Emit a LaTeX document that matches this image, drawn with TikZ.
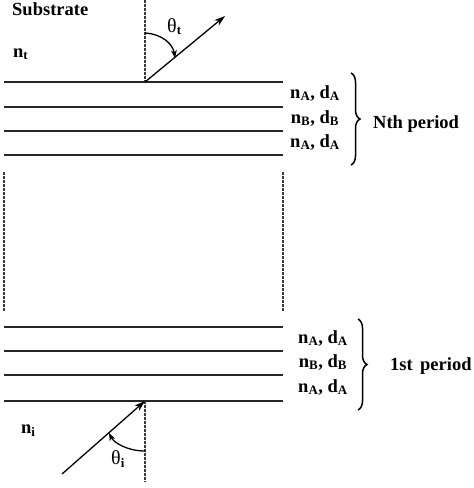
\documentclass[tikz,border=0pt]{standalone}
\usepackage{fontspec}
\setmainfont{Liberation Serif}
\usetikzlibrary{arrows.meta,decorations.pathreplacing}
\begin{document}
\begin{tikzpicture}[x=1pt,y=-1pt,
  layer/.style={line width=1.6pt, black!85},
  normal/.style={line width=1.1pt, gray!45!black, dash pattern=on 3pt off 1pt},
  ray/.style={line width=1.3pt, -{Stealth[length=11pt,width=7pt]}},
  anglearc/.style={line width=1.3pt, -{Stealth[length=8pt,width=6pt]}},
  lbl/.style={font=\fontsize{18.5}{20}\selectfont\bfseries, inner sep=0pt},
  brc/.style={decorate, decoration={brace, amplitude=9pt}, line width=1.5pt}]
\useasboundingbox (0,0) rectangle (474,488);
% layers, Nth period
\foreach \y [count=\i] in {82,107,131,155} {
  \draw[layer] (4,\y) coordinate (tl\i) -- (283,\y) coordinate (tr\i);
}
% layers, 1st period
\foreach \y [count=\i] in {327,351,375,401} {
  \draw[layer] (4,\y) coordinate (bl\i) -- (283,\y) coordinate (br\i);
}
% side dashed lines
\coordinate (lsa) at (4,172); \coordinate (lsb) at (4,312);
\coordinate (rsa) at (283,172); \coordinate (rsb) at (283,312);
\draw[normal] (lsa) -- (lsb);
\draw[normal] (rsa) -- (rsb);
% transmitted ray
\coordinate (ot) at (145,82);
\coordinate (nt) at (145,0);
\coordinate (tt) at (225,16);
\draw[normal] (nt) -- (ot);
\draw[ray] (ot) -- (tt);
\coordinate (at1) at (145,33); \coordinate (at2) at (175,58);
\draw[anglearc] (at1) .. controls (162,34) and (173,44) .. (at2);
% incident ray
\coordinate (oi) at (145,401);
\coordinate (ni) at (145,482);
\coordinate (si) at (62,474);
\draw[normal] (oi) -- (ni);
\draw[ray] (si) -- (oi);
\coordinate (ai1) at (145,451); \coordinate (ai2) at (109,433);
\draw[anglearc] (ai1) .. controls (128,451) and (114,443) .. (ai2);
% labels
\node[lbl, anchor=base west] (sub) at (12,15) {Substrate};
\node[lbl, anchor=base west] (nT) at (13,57) {n\textsubscript{t}};
\node[lbl, anchor=base west] (nI) at (21,433) {n\textsubscript{i}};
\node[lbl, anchor=base west] (thT) at (167,32) {{\fontsize{20}{22}\selectfont\mdseries θ}\textsubscript{t}};
\node[lbl, anchor=base west] (thI) at (111,464) {{\fontsize{20}{22}\selectfont\mdseries θ}\textsubscript{i}};
\node[lbl, anchor=base] (la1) at (315,98) {n\textsubscript{A}, d\textsubscript{A}};
\node[lbl, anchor=base] (lb1) at (315,123) {n\textsubscript{B}, d\textsubscript{B}};
\node[lbl, anchor=base] (la2) at (315,147) {n\textsubscript{A}, d\textsubscript{A}};
\node[lbl, anchor=base] (la3) at (323,343) {n\textsubscript{A}, d\textsubscript{A}};
\node[lbl, anchor=base] (lb2) at (323,367) {n\textsubscript{B}, d\textsubscript{B}};
\node[lbl, anchor=base] (la4) at (323,392) {n\textsubscript{A}, d\textsubscript{A}};
% braces
\coordinate (b1a) at (351,73); \coordinate (b1b) at (351,165);
\coordinate (b2a) at (358,319); \coordinate (b2b) at (358,410);
\draw[brc] (b1a) -- (b1b);
\draw[brc] (b2a) -- (b2b);
\node[lbl, anchor=base west] (nth) at (373,128) {Nth period};
\node[lbl, anchor=base west] (first) at (390,370) {1st\hspace{0.4em}period};
\end{tikzpicture}
\end{document}
